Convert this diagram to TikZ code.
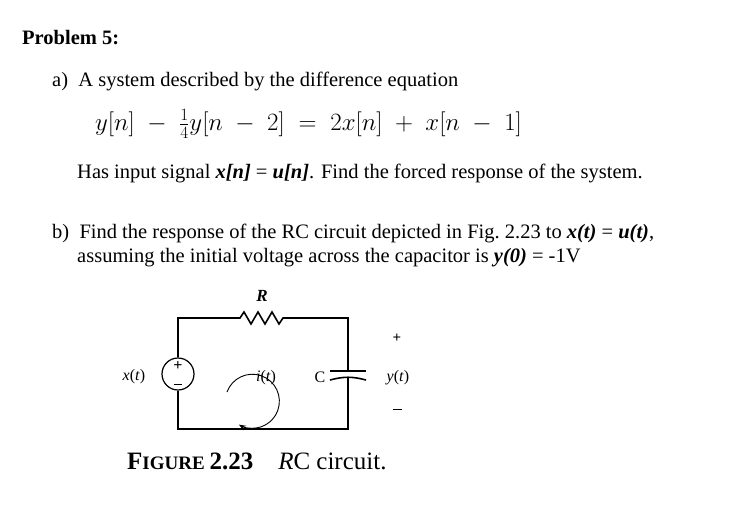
\documentclass[tikz,border=0pt]{standalone}
\usepackage{fontspec}
\setmainfont{Liberation Serif}
\usetikzlibrary{arrows.meta}
\begin{document}
\begin{tikzpicture}[x=1pt,y=-1pt,
  txt/.style={anchor=base west,inner sep=0,font=\fontsize{20.5}{24}\selectfont},
  sm/.style={inner sep=0,font=\fontsize{16}{18}\selectfont},
  wire/.style={line width=1.6pt}]
\useasboundingbox (0,0) rectangle (756,514);
\node[txt] (p) at (22,44) {\textbf{Problem 5:}};
\node[txt] (a) at (52,86) {a)\ \ A system described by the difference equation};
\node[txt,font=\fontsize{23}{26}\selectfont] (eq) at (95,130) {$y[n]\;-\;{\textstyle\frac14}y[n\;-\;2]\;=\;2x[n]\;+\;x[n\;-\;1]$};
\node[txt] (a2) at (77,178) {Has input signal \textbf{\textit{x[n]}} = \textbf{\textit{u[n]}}. Find the forced response of the system.};
\node[txt] (b) at (52,238) {b)\ \ Find the response of the RC circuit depicted in Fig.\ 2.23 to \textbf{\textit{x(t)}} = \textbf{\textit{u(t)}},};
\node[txt] (b2) at (77,262) {assuming the initial voltage across the capacitor is \textbf{\textit{y(0)}} = -1V};
% circuit
\coordinate (tl) at (178,318); \coordinate (tr) at (348,318);
\coordinate (bl) at (178,429); \coordinate (br) at (348,429);
\node[circle,draw,line width=1.2pt,minimum size=32pt,inner sep=0] (src) at (178,374) {};
\node[sm,font=\bfseries\fontsize{16}{18}\selectfont] (sp) at (178,366) {+};
\node[sm] (sm1) at (178,384) {\rule{8pt}{1pt}};
\draw[wire] (src.north) -- (tl) -- (240,318) -- (244,312) -- (251,324) -- (258,312) -- (265,324) -- (272,312) -- (279,324) -- (283,318) -- (tr) -- (348,371);
\draw[wire] (330,371) -- (366,371);
\draw[wire] (330,380) to[bend left=15] (366,380);
\draw[wire] (348,377) -- (br) -- (bl) -- (src.south);
\draw[line width=0.9pt,-{Stealth[length=7pt]}] (227,392) arc[start angle=200,end angle=480,radius=27];
\node[sm,font=\fontsize{17}{19}\selectfont\bfseries\itshape] (R) at (262,296) {R};
\node[sm] (xt) at (134,377) {\textit{x}(\textit{t})};
\node[sm] (it) at (266,378) {\textit{i}(\textit{t})};
\node[sm] (C) at (320,377) {C};
\node[sm] (yt) at (398,378) {\textit{y}(\textit{t})};
\node[sm,font=\bfseries\fontsize{15}{18}\selectfont] (pl) at (397,338) {+};
\node[sm] (mi) at (397,409) {\rule{9pt}{0.6pt}};
\node[txt,font=\fontsize{25}{28}\selectfont] (cap) at (127,469) {\textbf{F\fontsize{19}{22}\selectfont IGURE \fontsize{25}{28}\selectfont 2.23}\quad \textit{R}C circuit.};
\end{tikzpicture}
\end{document}
